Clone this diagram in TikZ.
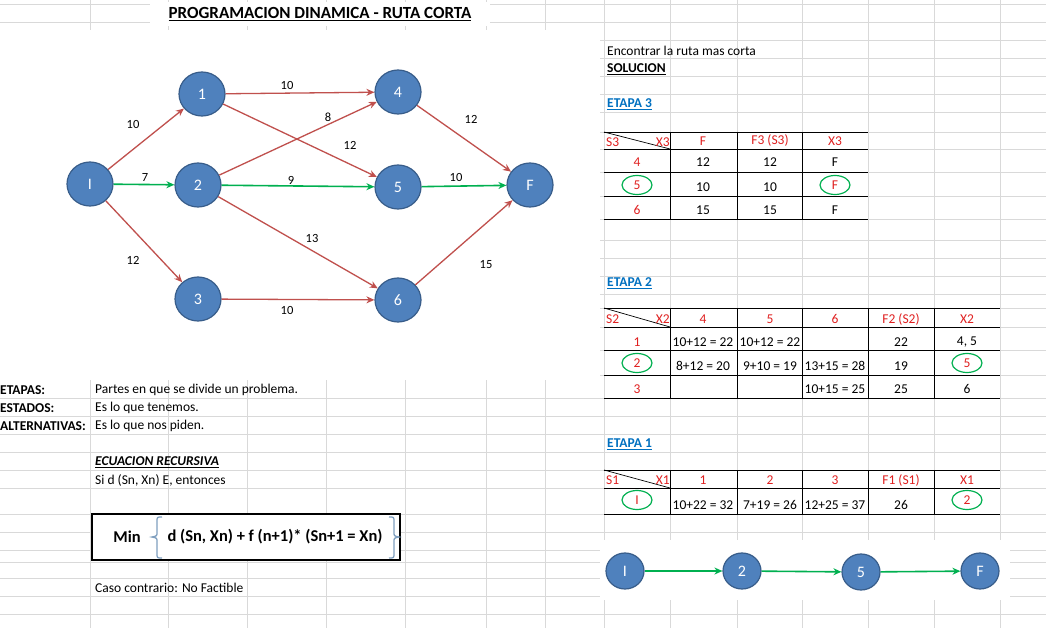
\documentclass[tikz,border=0pt]{standalone}
\usepackage{fontspec}
\setmainfont{Carlito}
\usetikzlibrary{arrows.meta,shapes.geometric}
\definecolor{nodeblue}{HTML}{4F81BD}
\definecolor{nodeborder}{HTML}{385D8A}
\definecolor{edgered}{HTML}{C0504D}
\definecolor{edgegreen}{HTML}{00B050}
\definecolor{etapa}{HTML}{0070C0}
\definecolor{txtred}{HTML}{E02020}
\definecolor{gridc}{HTML}{D9D9D9}
\definecolor{brk}{HTML}{7F9FBF}
\begin{document}
\begin{tikzpicture}[x=1pt,y=-1pt,
  every node/.style={font=\fontsize{13.5}{15}\selectfont},
  gn/.style={ellipse,draw=nodeborder,fill=nodeblue,text=white,minimum width=46,minimum height=44,inner sep=0,line width=1.2,font=\fontsize{16}{18}\selectfont},
  re/.style={draw=edgered,line width=1.3,-{Stealth[length=8,width=7]}},
  ge/.style={draw=edgegreen,line width=1.6,-{Stealth[length=8,width=7]}},
  lab/.style={font=\fontsize{12.5}{14}\selectfont,inner sep=1},
  tx/.style={anchor=west,inner sep=0},
  ctr/.style={inner sep=0},
  rt/.style={inner sep=0,text=txtred},
  circ/.style={ellipse,draw=edgegreen,line width=1.2,minimum width=30,minimum height=19,inner sep=0,text=txtred},
  bt/.style={tx,font=\bfseries\fontsize{13.5}{15}\selectfont},
  ttl/.style={bt,text=etapa}
]
\useasboundingbox (0,0) rectangle (1046,628);
\fill[white] (0,0) rectangle (1046,628);
% grid
\foreach \y in {4,22,40,58,76,94,112,132,149,172,196,219,240,258,276,294,308,327,350,375,398,416,434,452,470,488,514,532,550,562,578,596,614}
  \draw[gridc,line width=0.6] (0,\y) -- (1046,\y);
\foreach \x in {90,168,247,326,405,486,545,604,670,737,802,868,934,1000}
  \draw[gridc,line width=0.6] (\x,0) -- (\x,628);
\fill[white] (0,30) rectangle (600,380);
\fill[white] (150,2) rectangle (490,26);
% title
\node[ctr,font=\bfseries\fontsize{17}{19}\selectfont] (title) at (320,14) {\underline{PROGRAMACION DINAMICA - RUTA CORTA}};
% graph
\node[gn] (I) at (90,184) {I};
\node[gn] (n1) at (202,94) {1};
\node[gn] (n2) at (198,185) {2};
\node[gn] (n3) at (198,299) {3};
\node[gn] (n4) at (398,92) {4};
\node[gn] (n5) at (398,187) {5};
\node[gn] (n6) at (398,300) {6};
\node[gn] (F) at (530,185) {F};
\draw[re] (I) -- (n1);
\draw[ge] (I) -- (n2);
\draw[re] (I) -- (n3);
\draw[re] (n1) -- (n4);
\draw[re] (n1) -- (n5);
\draw[re] (n2) -- (n4);
\draw[ge] (n2) -- (n5);
\draw[re] (n2) -- (n6);
\draw[re] (n3) -- (n6);
\draw[re] (n4) -- (F);
\draw[ge] (n5) -- (F);
\draw[re] (n6) -- (F);
\node[lab] (l1) at (133,124) {10};
\node[lab] (l2) at (145,177) {7};
\node[lab] (l3) at (133,260) {12};
\node[lab] (l4) at (287,85) {10};
\node[lab] (l5) at (350,145) {12};
\node[lab] (l6) at (328,117) {8};
\node[lab] (l7) at (291,180) {9};
\node[lab] (l8) at (312,238) {13};
\node[lab] (l9) at (287,310) {10};
\node[lab] (l10) at (471,119) {12};
\node[lab] (l11) at (456,177) {10};
\node[lab] (l12) at (486,265) {15};
% left texts
\node[bt] (e1) at (0,390) {ETAPAS:};
\node[tx] (e1t) at (95,390) {Partes en que se divide un problema.};
\node[bt] (e2) at (0,408) {ESTADOS:};
\node[tx] (e2t) at (95,408) {Es lo que tenemos.};
\node[bt] (e3) at (0,426) {ALTERNATIVAS:};
\node[tx] (e3t) at (95,426) {Es lo que nos piden.};
\node[tx,font=\bfseries\itshape\fontsize{13.5}{15}\selectfont] (ec) at (95,462) {\underline{ECUACION RECURSIVA}};
\node[tx] (si) at (95,480) {Si d (Sn, Xn) E, entonces};
\fill[white] (92,514) rectangle (400,560);
\draw[line width=1.5] (92,514) rectangle (400,560);
\node[ctr,font=\bfseries\fontsize{16.5}{18}\selectfont] (min) at (127,537) {Min};
\node[ctr,font=\bfseries\fontsize{16.5}{18}\selectfont] (eq) at (275,537) {d (Sn, Xn) + f (n+1)* (Sn+1 = Xn)};
\draw[brk,line width=1.3] (162,517) .. controls (157,517) .. (157,522) -- (157,532) .. controls (157,536) .. (152,537) .. controls (157,538) .. (157,542) -- (157,553) .. controls (157,558) .. (162,558);
\draw[brk,line width=1.3] (389,517) .. controls (394,517) .. (394,522) -- (394,532) .. controls (394,536) .. (399,537) .. controls (394,538) .. (394,542) -- (394,553) .. controls (394,558) .. (389,558);
\node[tx] (caso) at (95,588) {Caso contrario: No Factible};
% right header texts
\node[tx] (enc) at (607,51) {Encontrar la ruta mas corta};
\node[bt] (sol) at (607,69) {\underline{SOLUCION}};
\node[ttl] (et3) at (607,104) {\underline{ETAPA 3}};
\node[ttl] (et2) at (607,283) {\underline{ETAPA 2}};
\node[ttl] (et1) at (607,444) {\underline{ETAPA 1}};
% table 3
\foreach \y in {132,149,172,196,219} \draw[line width=0.9] (604,\y) -- (868,\y);
\foreach \x in {670,737,802} \draw[line width=0.9] (\x,132) -- (\x,219);
\draw[line width=0.7] (604,132) -- (670,149);
\node[rt,anchor=west] (s3) at (606,142) {S3};
\node[rt,anchor=east] (x3h) at (670,142) {X3};
\node[rt] (t3a) at (703,141) {F};
\node[rt] (t3b) at (770,141) {F3 (S3)};
\node[rt] (t3c) at (835,141) {X3};
\node[rt] (r41) at (637,162) {4};
\node[ctr] (r42) at (703,162) {12};
\node[ctr] (r43) at (770,162) {12};
\node[ctr] (r44) at (835,162) {F};
\node[circ] (r51) at (637,185) {5};
\node[ctr] (r52) at (703,187) {10};
\node[ctr] (r53) at (770,187) {10};
\node[circ] (r54) at (835,185) {F};
\node[rt] (r61) at (637,210) {6};
\node[ctr] (r62) at (703,210) {15};
\node[ctr] (r63) at (770,210) {15};
\node[ctr] (r64) at (835,210) {F};
% table 2
\foreach \y in {308,327,350,375,398} \draw[line width=0.9] (604,\y) -- (1000,\y);
\foreach \x in {670,737,802,868,934} \draw[line width=0.9] (\x,308) -- (\x,398);
\draw[line width=0.7] (604,308) -- (670,327);
\node[rt,anchor=west] (s2) at (606,319) {S2};
\node[rt,anchor=east] (x2h) at (670,319) {X2};
\node[rt] (h24) at (703,319) {4};
\node[rt] (h25) at (770,319) {5};
\node[rt] (h26) at (835,319) {6};
\node[rt] (h2f) at (901,319) {F2 (S2)};
\node[rt] (h2x) at (967,319) {X2};
\node[rt] (a1) at (637,342) {1};
\node[ctr] (a2) at (703,342) {10+12 = 22};
\node[ctr] (a3) at (770,342) {10+12 = 22};
\node[ctr] (a5) at (901,342) {22};
\node[ctr] (a6) at (967,342) {4, 5};
\node[circ] (b1) at (637,363) {2};
\node[ctr] (b2) at (703,366) {8+12 = 20};
\node[ctr] (b3) at (770,366) {9+10 = 19};
\node[ctr] (b4) at (835,366) {13+15 = 28};
\node[ctr] (b5) at (901,366) {19};
\node[circ] (b6) at (967,363) {5};
\node[rt] (c1) at (637,389) {3};
\node[ctr] (c4) at (835,389) {10+15 = 25};
\node[ctr] (c5) at (901,389) {25};
\node[ctr] (c6) at (967,389) {6};
% table 1
\foreach \y in {470,488,514} \draw[line width=0.9] (604,\y) -- (1000,\y);
\foreach \x in {670,737,802,868,934} \draw[line width=0.9] (\x,470) -- (\x,514);
\draw[line width=0.7] (604,470) -- (670,488);
\node[rt,anchor=west] (s1) at (606,480) {S1};
\node[rt,anchor=east] (x1h) at (670,480) {X1};
\node[rt] (h11) at (703,480) {1};
\node[rt] (h12) at (770,480) {2};
\node[rt] (h13) at (835,480) {3};
\node[rt] (h1f) at (901,480) {F1 (S1)};
\node[rt] (h1x) at (967,480) {X1};
\node[circ] (d1) at (637,500) {I};
\node[ctr] (d2) at (703,505) {10+22 = 32};
\node[ctr] (d3) at (770,505) {7+19 = 26};
\node[ctr] (d4) at (835,505) {12+25 = 37};
\node[ctr] (d5) at (901,505) {26};
\node[circ] (d6) at (967,500) {2};
% bottom path
\fill[white] (600,540) rectangle (1010,600);
\node[gn,minimum width=38,minimum height=36] (pI) at (625,571) {I};
\node[gn,minimum width=38,minimum height=36] (p2) at (742,571) {2};
\node[gn,minimum width=38,minimum height=36] (p5) at (861,572) {5};
\node[gn,minimum width=38,minimum height=36] (pF) at (980,571) {F};
\draw[ge] (pI) -- (p2);
\draw[ge] (p2) -- (p5);
\draw[ge] (p5) -- (pF);
\end{tikzpicture}
\end{document}
